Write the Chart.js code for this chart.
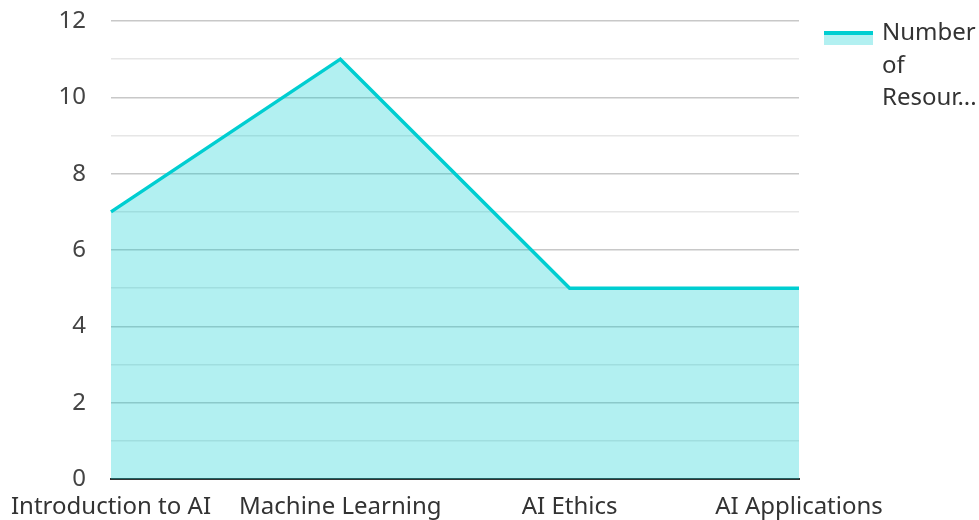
<!DOCTYPE html>
<html>
<head>
<meta charset="utf-8">
<script src="https://cdn.jsdelivr.net/npm/chart.js@4.4.0/dist/chart.umd.min.js"></script>
<style>
    body { margin: 0; background: #fff; font-family: "Noto Sans", sans-serif; }
    #wrap { position: relative; width: 979px; height: 520px; }
    #legend { position: absolute; left: 824px; top: 15px; width: 155px; }
    #legend .swatch { position: absolute; left: 0; top: 16px; width: 49px; height: 14px; background: rgba(0, 206, 209, 0.3); border-top: 4px solid #00CED1; box-sizing: border-box; }
    #legend .label { position: absolute; left: 58px; top: 0; width: 97px; font-size: 24px; line-height: 32.5px; color: #333; }
</style>
</head>
<body>
<div id="wrap">
    <canvas id="chart" width="979" height="520"></canvas>
    <div id="legend"><div class="swatch"></div><div class="label">Number of Resour...</div></div>
</div>
<script>
const categories = ['Introduction to AI', 'Machine Learning', 'AI Ethics', 'AI Applications'];
const resourceCounts = [7, 11, 5, 5];
const seriesName = 'Number of Resources';

const ctx = document.getElementById('chart').getContext('2d');
const chart = new Chart(ctx, {
    type: 'line',
    data: {
        labels: categories,
        datasets: [{
            label: seriesName,
            data: resourceCounts,
            borderColor: '#00CED1',
            backgroundColor: 'rgba(0, 206, 209, 0.3)',
            borderWidth: 3.5,
            fill: 'origin',
            pointRadius: 0,
            tension: 0
        }]
    },
    options: {
        responsive: false,
        animation: false,
        layout: { padding: { top: 21, right: 180, left: 0, bottom: 0 } },
        plugins: {
            legend: { display: false },
            tooltip: { enabled: false }
        },
        scales: {
            x: {
                offset: false,
                grid: { display: false },
                border: { display: true, color: '#333', width: 2 },
                ticks: { color: '#333', font: { family: 'Noto Sans', size: 24 }, padding: 6, maxRotation: 0, autoSkip: false },
                afterFit: scale => { scale.height = 41; }
            },
            y: {
                min: 0,
                max: 12,
                border: { display: false },
                grid: {
                    drawTicks: false,
                    color: c => (c.tick.value % 2 === 0 ? '#c8c8c8' : '#e6e6e6'),
                    lineWidth: 1.5
                },
                ticks: {
                    stepSize: 1,
                    padding: 25,
                    color: '#444',
                    font: { family: 'Noto Sans', size: 24 },
                    callback: v => (v % 2 === 0 ? v : '')
                },
                afterFit: scale => {
                    scale.width = 111;
                    scale.paddingTop = 0;
                    scale.paddingBottom = 0;
                }
            }
        }
    }
});
</script>
</body>
</html>
